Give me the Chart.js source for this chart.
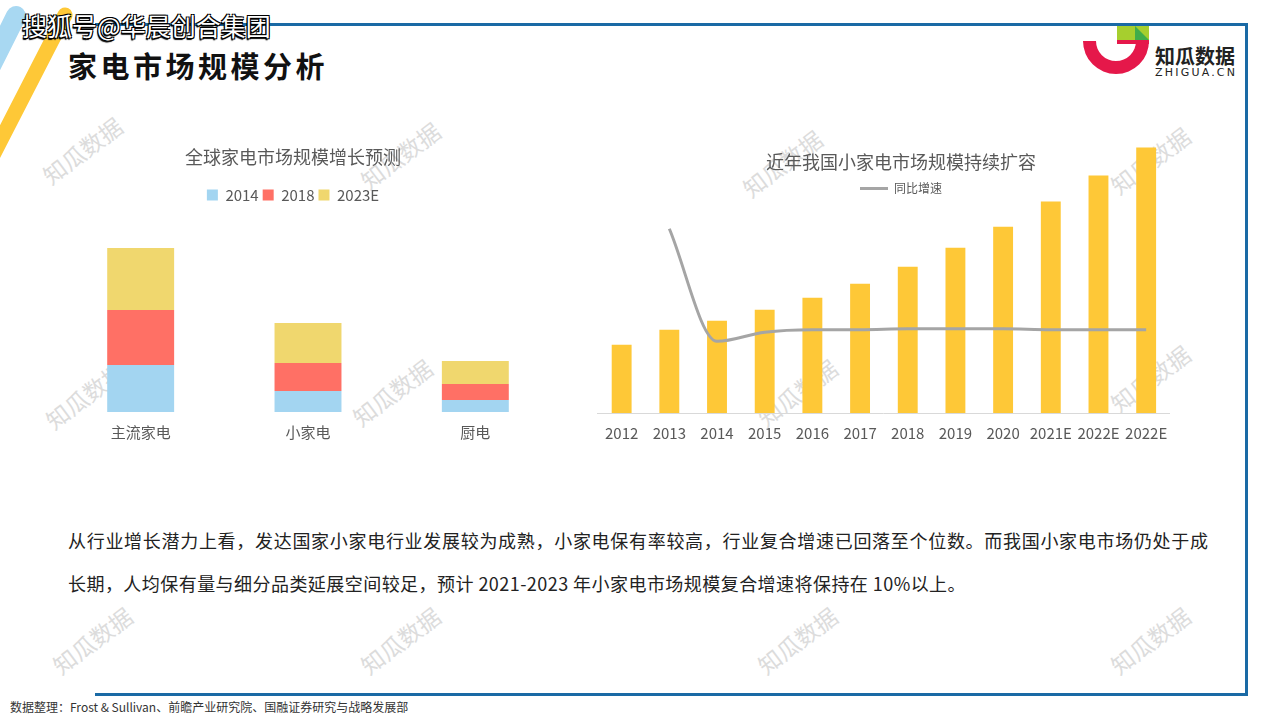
<!DOCTYPE html>
<html lang="zh-CN">
<head>
<meta charset="utf-8">
<title>家电市场规模分析</title>
<script src="https://cdn.jsdelivr.net/npm/chart.js@4.4.0/dist/chart.umd.min.js"></script>
<style>
  html, body { margin: 0; padding: 0; }
  body {
    width: 1280px; height: 720px; position: relative; overflow: hidden; background: #fff;
    font-family: "Noto Sans CJK SC", "Noto Sans", sans-serif; color: #222;
  }
  .wm {
    position: absolute; color: #dcdcdc; font-size: 23px; white-space: nowrap;
    transform: translate(-50%, -50%) rotate(-37deg); z-index: 0;
  }
  .frame { position: absolute; background: #1a6aa5; z-index: 1; }
  .chartbox { position: absolute; z-index: 2; }
  .text { position: absolute; z-index: 3; white-space: nowrap; }
  #header {
    left: 22px; top: 10px; font-size: 25px; line-height: 30px; color: #fff;
    text-shadow: -1px 1px 0 #000, 1px 1px 0 #000, -1px -1px 0 #000, 1px -1px 0 #000, -1px 2px 1px #000;
  }
  #pageTitle { left: 68px; top: 47px; font-size: 29px; line-height: 36px; font-weight: bold; color: #111; letter-spacing: 3.5px; }
  .para { left: 68px; font-size: 18px; line-height: 24px; color: #222; }
  #para1 { top: 528px; width: 1137px; text-align: justify; text-align-last: justify; letter-spacing: 0.7px; }
  #para2 { top: 571px; letter-spacing: 0.45px; }
  #footer { left: 10px; top: 699px; font-size: 12px; line-height: 16px; color: #333; }
  #logoText { left: 1155px; top: 44px; font-size: 20px; line-height: 24px; font-weight: bold; color: #222; }
  #logoSub { left: 1155px; top: 66px; font-size: 11px; line-height: 13px; color: #222; letter-spacing: 2.2px; font-family: "DejaVu Sans", sans-serif; }
</style>
</head>
<body>

<!-- watermarks -->
<div class="wm" style="left:82px;top:150px">知瓜数据</div>
<div class="wm" style="left:85px;top:395px">知瓜数据</div>
<div class="wm" style="left:400px;top:155px">知瓜数据</div>
<div class="wm" style="left:392px;top:392px">知瓜数据</div>
<div class="wm" style="left:782px;top:163px">知瓜数据</div>
<div class="wm" style="left:797px;top:392px">知瓜数据</div>
<div class="wm" style="left:1150px;top:160px">知瓜数据</div>
<div class="wm" style="left:1150px;top:378px">知瓜数据</div>
<div class="wm" style="left:92px;top:640px">知瓜数据</div>
<div class="wm" style="left:400px;top:640px">知瓜数据</div>
<div class="wm" style="left:797px;top:640px">知瓜数据</div>
<div class="wm" style="left:1150px;top:640px">知瓜数据</div>

<!-- corner stripes -->
<svg style="position:absolute;left:0;top:0;z-index:1" width="140" height="200">
  <line x1="16" y1="16" x2="-26" y2="100" stroke="#a8d8f2" stroke-width="20" stroke-linecap="round"/>
  <line x1="65" y1="15" x2="-12" y2="165" stroke="#fec837" stroke-width="15" stroke-linecap="round"/>
</svg>

<!-- frame -->
<div class="frame" style="left:95px;top:23px;width:1153px;height:2.5px"></div>
<div class="frame" style="left:1245px;top:23px;width:2.5px;height:673px"></div>
<div class="frame" style="left:95px;top:693px;width:1153px;height:2.5px"></div>

<!-- logo -->
<svg style="position:absolute;left:1080px;top:22px;z-index:3" width="75" height="60">
  <path d="M3 19 A33 33 0 0 0 69 19 L69 18 L56 18 L56 19 A20 20 0 0 1 16 19 Z" fill="#e5184a"/>
  <rect x="37" y="18" width="32" height="4" fill="#e5184a"/>
  <rect x="37" y="4" width="32" height="14" fill="#a6cf2e"/>
  <polygon points="55,4 69,18 55,18" fill="#40ad4a"/>
</svg>
<div class="text" id="logoText">知瓜数据</div>
<div class="text" id="logoSub">ZHIGUA.CN</div>

<div class="text" id="header">搜狐号@华晨创合集团</div>
<div class="text" id="pageTitle">家电市场规模分析</div>

<div class="chartbox" style="left:27px;top:140px"><canvas id="globalChart" width="532" height="312"></canvas></div>
<div class="chartbox" style="left:594px;top:140px"><canvas id="smallChart" width="614" height="313"></canvas></div>

<div class="text para" id="para1">从行业增长潜力上看，发达国家小家电行业发展较为成熟，小家电保有率较高，行业复合增速已回落至个位数。而我国小家电市场仍处于成</div>
<div class="text para" id="para2">长期，人均保有量与细分品类延展空间较足，预计 2021-2023 年小家电市场规模复合增速将保持在 10%以上。</div>
<div class="text" id="footer">数据整理：Frost &amp; Sullivan、前瞻产业研究院、国融证券研究与战略发展部</div>

<script>
// left chart: global market, stacked by year
const globalCats = ['主流家电', '小家电', '厨电'];
const globalYears = ['2014', '2018', '2023E'];
const global2014 = [47, 21, 12];
const global2018 = [55, 28, 16];
const global2023E = [62, 40, 23];

// right chart: China small appliances
const years = ['2012', '2013', '2014', '2015', '2016', '2017', '2018', '2019', '2020', '2021E', '2022E', '2022E'];
const marketSize = [68, 83, 92, 103, 115, 129, 146, 165, 186, 211, 237, 265];
const yoyGrowth = [null, 22.1, 8.6, 9.7, 10.0, 10.0, 10.1, 10.1, 10.1, 10.0, 10.0, 10.0];

const textColor = '#595959';
const lineColor = '#a5a5a5';

Chart.defaults.font.family = '"Noto Sans CJK SC", "Noto Sans", sans-serif';
Chart.defaults.color = textColor;

const hiddenAxis = {
    grid: { display: false, drawTicks: false },
    border: { display: false },
    ticks: { display: false }
};

new Chart(document.getElementById('globalChart'), {
    type: 'bar',
    data: {
        labels: globalCats,
        datasets: [
            { label: globalYears[0], data: global2014, backgroundColor: '#a3d5f1' },
            { label: globalYears[1], data: global2018, backgroundColor: '#ff7065' },
            { label: globalYears[2], data: global2023E, backgroundColor: '#f0d76e' }
        ]
    },
    options: {
        responsive: false,
        animation: false,
        layout: { padding: 0 },
        datasets: { bar: { categoryPercentage: 1, barPercentage: 0.4 } },
        plugins: {
            title: {
                display: true,
                text: '全球家电市场规模增长预测',
                color: textColor,
                font: { size: 18, weight: 'normal' },
                padding: { top: 6, bottom: 16 }
            },
            legend: {
                labels: { boxWidth: 11, boxHeight: 11, padding: 4, color: textColor, font: { size: 15 } }
            },
            tooltip: { enabled: false }
        },
        scales: {
            x: {
                stacked: true,
                grid: { display: false, drawTicks: false },
                border: { display: false },
                ticks: { color: textColor, font: { size: 15 }, padding: 11, maxRotation: 0, autoSkip: false }
            },
            y: Object.assign({}, hiddenAxis, {
                stacked: true,
                min: 0,
                max: 199.5,
                afterFit: scale => { scale.width = 30; } // keeps title centred over the whole block
            })
        }
    }
});

new Chart(document.getElementById('smallChart'), {
    type: 'bar',
    data: {
        labels: years,
        datasets: [
            {
                label: '市场规模',
                data: marketSize,
                backgroundColor: '#fec837',
                categoryPercentage: 1,
                barPercentage: 0.417,
                clip: false, // the last bars run up past the legend like in the source
                order: 2
            },
            {
                type: 'line',
                label: '同比增速',
                data: yoyGrowth,
                yAxisID: 'y1',
                borderColor: lineColor,
                backgroundColor: lineColor,
                borderWidth: 3,
                pointRadius: 0,
                cubicInterpolationMode: 'monotone',
                fill: false,
                order: 1
            }
        ]
    },
    options: {
        responsive: false,
        animation: false,
        layout: { padding: 0 },
        plugins: {
            title: {
                display: true,
                text: '近年我国小家电市场规模持续扩容',
                color: textColor,
                font: { size: 18, weight: 'normal' },
                padding: { top: 11, bottom: 0 }
            },
            legend: {
                labels: {
                    boxWidth: 28,
                    boxHeight: 3,
                    padding: 10,
                    color: textColor,
                    font: { size: 12 },
                    generateLabels(chart) {
                        return Chart.defaults.plugins.legend.labels.generateLabels(chart)
                            .filter(item => item.datasetIndex === 1)
                            .map(item => Object.assign(item, { lineWidth: 0, fillStyle: lineColor }));
                    }
                }
            },
            tooltip: { enabled: false }
        },
        scales: {
            x: {
                grid: { display: false, drawTicks: false },
                border: { display: true, color: '#d9d9d9', width: 1 },
                ticks: { color: textColor, font: { size: 15 }, padding: 11, maxRotation: 0, autoSkip: false }
            },
            y: Object.assign({}, hiddenAxis, { display: false, min: 0, max: 208 }),
            y1: Object.assign({}, hiddenAxis, {
                position: 'right',
                min: 0,
                max: 25,
                afterFit: scale => { scale.width = 38; }
            })
        }
    }
});
</script>
</body>
</html>
